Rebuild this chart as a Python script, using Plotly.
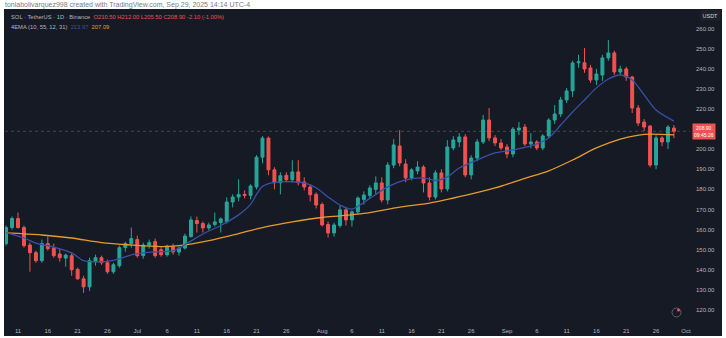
import plotly.graph_objects as go
import pandas as pd

# ---------------- data ----------------
start_date = "2025-06-09"
opens = [153, 161, 165.5, 161, 152.3, 148.5, 144.5, 153, 150.8, 147.8, 145.8, 147, 140.2, 135.5, 131.5, 144, 146, 143.5, 139, 142, 151, 153,
         155, 147, 152.3, 154, 150, 147.5, 151.5, 148.8, 150.8, 156.5, 164.5, 163, 160.8, 162.5, 163.5, 164, 173.7, 176.2, 177.5, 177, 181.2, 196, 205.5, 189.7, 183.3, 187, 184.8, 188.7, 183.7, 181.2, 177.5,
         172.5, 162.5, 158.3, 162, 169.8, 164.8, 168.8, 175, 177, 180, 183.2, 174.7, 192.1, 201.6, 192.6, 185.7, 189.2, 191.1, 183.2, 176.2, 188.2, 180.2, 200.6, 203.6, 206.1, 187.2, 195.6, 203.6, 214.5, 205.6, 203.1,
         201.1, 197.6, 209.5, 211, 202.6, 203.6, 200.6, 206.6, 214.5, 217.5, 224.5, 229, 243, 243, 240.4, 234.4, 236.9, 245.4, 247.9, 238.4, 239.9, 235.9, 220.5, 213.5, 211.5, 192.1, 205.6, 203.6, 210.5]
highs = [162, 166.5, 168.5, 162, 153.5, 149.5, 155, 156.5, 153, 150.5, 148, 148.5, 141, 137, 146, 147.5, 147, 145, 143.5, 152, 154, 161,
         157, 153.5, 155, 155.5, 151.5, 152.5, 153, 151.5, 158, 166.5, 166.5, 164, 163.5, 168.5, 166, 176, 177.5, 185, 179.5, 182.5, 197, 206.5, 206.3, 191, 188.5, 188.5, 194.5, 194.5, 186, 182.5, 178.5,
         173.5, 164, 163.5, 172, 171, 169.5, 176.5, 179, 182, 186.5, 186, 193.5, 205, 209.5, 195, 190.5, 194, 192, 186, 189.5, 190, 204.5, 206.5, 208, 207.5, 197, 205, 217, 220.5, 207, 205,
         202.5, 211, 213.5, 212.5, 208, 204.5, 207.5, 215.5, 222, 226, 230.5, 244, 247, 250.3, 242, 240, 247, 254.3, 249, 241.5, 241, 236.5, 222, 215, 212, 207, 206.5, 212, 212]
lows = [152, 160, 160.5, 151, 139, 143.5, 143.5, 149.5, 146, 144, 141.5, 137, 135, 128.5, 129.5, 142, 142.5, 138, 138, 141, 149, 151,
        146, 145.5, 150.5, 146, 146.5, 146.5, 147.5, 147, 150, 156, 158.5, 158.5, 159.5, 161.5, 158.5, 163, 171, 174, 175.5, 175, 180, 193, 187, 180, 177.5, 183.5, 183.5, 182, 179.5, 174, 170.5,
        161.5, 156, 156.5, 161, 162, 161.5, 167.5, 172.5, 175.5, 177.5, 173.5, 172.5, 190.5, 191.5, 183.5, 184.5, 187.5, 178.5, 174.5, 175, 178.5, 179, 199.5, 201, 186, 185, 194, 202.5, 204, 201.5, 199.5,
        195.5, 196, 207, 201.5, 200.5, 199.5, 199.5, 205.5, 212.5, 216, 223, 226, 240.5, 238, 233, 232, 234, 244, 237, 237, 234, 218, 211.5, 209, 191, 190, 201.5, 200, 205.5]
closes = [161, 165.5, 161, 152, 148.5, 144.5, 153, 150.5, 147, 146, 147.3, 140, 135.5, 131.5, 144.5, 146, 143.5, 139, 142.5, 151, 153, 155.5,
          147, 152.3, 153.5, 147, 147.5, 151.8, 148.8, 150.8, 156.8, 164.8, 163, 160.8, 162.3, 163.8, 165.3, 173.7, 176.2, 177.5, 177, 181.7, 196, 205.5, 189.7, 183.3, 186.8, 184.8, 188.7, 183.3, 181.2, 177.3, 172.2,
          162.3, 158.3, 162.3, 169.8, 164.8, 168.8, 175.7, 177.2, 180.7, 183.2, 174.7, 192.1, 202.1, 193.1, 185.7, 189.7, 191.1, 183.2, 176.2, 188.2, 180.2, 201.1, 204.6, 206.1, 187.2, 195.6, 203.6, 214.5, 205.6, 203.1, 200.6,
          197.6, 210, 210.5, 202.6, 203.6, 200.6, 206.6, 214.5, 217.5, 224.5, 229, 242.9, 243.5, 239.9, 234.4, 237.4, 245.4, 247.9, 238.4, 239.9, 235.9, 220.5, 213, 211, 192.1, 205.6, 203.6, 211, 208.9]

ema_fast_dates = ["2025-06-09", "2025-06-12", "2025-06-14", "2025-06-17", "2025-06-20", "2025-06-22", "2025-06-24", "2025-06-26",
                  "2025-06-28", "2025-06-30", "2025-07-02", "2025-07-04", "2025-07-07", "2025-07-09", "2025-07-12", "2025-07-15",
                  "2025-07-18", "2025-07-20", "2025-07-21", "2025-07-22", "2025-07-24", "2025-07-27", "2025-07-29", "2025-07-31",
                  "2025-08-02", "2025-08-04", "2025-08-06", "2025-08-09", "2025-08-12", "2025-08-15", "2025-08-18", "2025-08-20",
                  "2025-08-22", "2025-08-24", "2025-08-27", "2025-08-30", "2025-09-02", "2025-09-05", "2025-09-08", "2025-09-10",
                  "2025-09-12", "2025-09-14", "2025-09-16", "2025-09-18", "2025-09-20", "2025-09-22", "2025-09-24", "2025-09-26",
                  "2025-09-29"]
ema_fast_vals = [158.5, 155.8, 153.3, 151.3, 148.4, 144.5, 143.9, 144.2,
                 145.4, 147.4, 148.4, 148.9, 149.4, 152.5, 157.8, 162.0,
                 167.3, 172.5, 177.5, 181.5, 183.5, 183.8, 183.2, 180.8,
                 176.2, 172.2, 170.2, 175.5, 181.2, 184.7, 185.7, 184.4,
                 186.2, 190.6, 194.6, 198.1, 199.6, 201.6, 205.6, 212.0,
                 218.5, 224.5, 230.5, 234.9, 236.9, 234.4, 227.0, 219.5,
                 213.97]

ema_slow_dates = ["2025-06-09", "2025-06-15", "2025-06-20", "2025-06-25", "2025-06-30", "2025-07-05", "2025-07-08", "2025-07-13",
                  "2025-07-18", "2025-07-22", "2025-07-27", "2025-08-01", "2025-08-04", "2025-08-08", "2025-08-14", "2025-08-19",
                  "2025-08-25", "2025-08-30", "2025-09-04", "2025-09-08", "2025-09-12", "2025-09-16", "2025-09-20", "2025-09-24",
                  "2025-09-29"]
ema_slow_vals = [158.3, 157.3, 155.8, 153.5, 152.3, 151.5, 152.0, 154.5,
                 158.0, 161.0, 163.8, 166.0, 166.8, 168.0, 171.2, 173.2,
                 177.0, 180.7, 185.5, 189.2, 194.6, 200.6, 205.0, 207.4,
                 207.09]

x_tick_dates = ["2025-06-11", "2025-06-16", "2025-06-21", "2025-06-26", "2025-07-01", "2025-07-06", "2025-07-11", "2025-07-16",
                "2025-07-21", "2025-07-26", "2025-08-01", "2025-08-06", "2025-08-11", "2025-08-16", "2025-08-21", "2025-08-26",
                "2025-09-01", "2025-09-06", "2025-09-11", "2025-09-16", "2025-09-21", "2025-09-26", "2025-10-01"]
x_tick_text = ["11", "16", "21", "26", "Jul", "6", "11", "16", "21", "26", "Aug", "6", "11", "16", "21", "26",
               "Sep", "6", "11", "16", "21", "26", "Oct"]
# 210.00 is hidden behind the last-price tag in the reference
y_tick_vals = [120, 130, 140, 150, 160, 170, 180, 190, 200, 220, 230, 240, 250, 260]
y_tick_text = [f"{v:.2f}" for v in y_tick_vals]

countdown = "09:45:26"

# ---------------- styling ----------------
W, H = 726, 338
ML, MR, MT, MB = 5, 36, 9, 16
PW, PH = W - ML - MR, H - MT - MB
BG = "#161a25"
UP = "#26a69a"
DN = "#ef5350"
BLUE = "#3a4fa6"
ORANGE = "#e69a2b"
TXT = "#b2b5be"
FONT = "Liberation Sans"


def px(xp):
    return (xp - ML) / PW


def py(yp):
    return (H - MB - yp) / PH


dates = pd.date_range(start_date, periods=len(closes), freq="D")

fig = go.Figure()
fig.add_trace(go.Candlestick(
    x=dates, open=opens, high=highs, low=lows, close=closes,
    increasing=dict(line=dict(color=UP, width=1), fillcolor=UP),
    decreasing=dict(line=dict(color=DN, width=1), fillcolor=DN),
    whiskerwidth=0, showlegend=False, hoverinfo="skip"))
fig.add_trace(go.Scatter(x=pd.to_datetime(ema_slow_dates), y=ema_slow_vals, mode="lines",
                         line=dict(color=ORANGE, width=1.3, shape="spline", smoothing=0.8),
                         showlegend=False, hoverinfo="skip"))
fig.add_trace(go.Scatter(x=pd.to_datetime(ema_fast_dates), y=ema_fast_vals, mode="lines",
                         line=dict(color=BLUE, width=1.3, shape="spline", smoothing=0.8),
                         showlegend=False, hoverinfo="skip"))

last_close = closes[-1]
prev_close = closes[-2]
chg = last_close - prev_close

shapes = [
    # white strips around the dark panel
    dict(type="rect", xref="paper", yref="paper", x0=px(0), x1=px(W), y0=py(9), y1=py(0),
         fillcolor="white", line=dict(width=0), layer="above"),
    dict(type="rect", xref="paper", yref="paper", x0=px(0), x1=px(4), y0=py(H), y1=py(0),
         fillcolor="white", line=dict(width=0), layer="above"),
    dict(type="rect", xref="paper", yref="paper", x0=px(722), x1=px(W), y0=py(H), y1=py(0),
         fillcolor="white", line=dict(width=0), layer="above"),
    dict(type="rect", xref="paper", yref="paper", x0=px(0), x1=px(W), y0=py(H), y1=py(336),
         fillcolor="white", line=dict(width=0), layer="above"),
    # price line
    dict(type="line", xref="paper", yref="y", x0=0, x1=1, y0=last_close, y1=last_close,
         line=dict(color="rgba(180,180,190,0.3)", width=1, dash="dot"), layer="below"),
    # small logo circle
    dict(type="circle", xref="paper", yref="paper", x0=px(672), x1=px(681), y0=py(317), y1=py(308),
         line=dict(color="#5d606b", width=1)),
    dict(type="circle", xref="paper", yref="paper", x0=px(677), x1=px(680), y0=py(311.5), y1=py(308.5),
         fillcolor=DN, line=dict(width=0)),
]

ann = [
    dict(x=px(3), y=py(4.5), text="toniabolivarquez998 created with TradingView.com, Sep 29, 2025 14:14 UTC-4",
         font=dict(size=7, color="#787b86", family=FONT)),
    dict(x=px(9), y=py(17.5),
         text=(f"SOL · TetherUS · 1D · Binance  <span style='color:{DN}'>O{opens[-1]:.2f} H{highs[-1]:.2f} "
               f"L{lows[-1]:.2f} C{last_close:.2f} {chg:+.2f} ({chg / prev_close * 100:+.2f}%)</span>"),
         font=dict(size=5.8, color=TXT, family=FONT)),
    dict(x=px(9), y=py(26.5),
         text=(f"4EMA (10, 55, 12, 31)  <span style='color:{BLUE}'>{ema_fast_vals[-1]:.2f}</span>  "
               f"<span style='color:{ORANGE}'>{ema_slow_vals[-1]:.2f}</span>"),
         font=dict(size=5.8, color=TXT, family=FONT)),
]
for a in ann:
    a.update(xref="paper", yref="paper", xanchor="left", yanchor="middle", showarrow=False)

ann.append(dict(xref="paper", yref="paper", x=px(711), y=py(15), text="USDT", showarrow=False,
                xanchor="center", yanchor="middle", bgcolor="#1e222d",
                font=dict(size=5.5, color="#d1d4dc", family=FONT), borderpad=1.5))
ann.append(dict(xref="paper", yref="y", x=px(692), y=last_close, text=f"{last_close:.2f}<br>{countdown}",
                showarrow=False, xanchor="left", yanchor="middle", align="center", bgcolor=DN,
                font=dict(size=5, color="white", family=FONT), borderpad=1))

fig.update_layout(
    width=W, height=H, margin=dict(l=ML, r=MR, t=MT, b=MB),
    paper_bgcolor=BG, plot_bgcolor=BG,
    shapes=shapes, annotations=ann, showlegend=False,
    xaxis=dict(type="date", range=["2025-06-08 19:40", "2025-10-01 16:35"],
               rangeslider=dict(visible=False), showgrid=False, zeroline=False,
               tickmode="array", tickvals=x_tick_dates, ticktext=x_tick_text,
               tickfont=dict(size=6, color=TXT, family=FONT), ticks="", ticklabelstandoff=4,
               showline=False, fixedrange=True),
    yaxis=dict(side="right", range=[114.0, 269.75], showgrid=False, zeroline=False,
               tickmode="array", tickvals=y_tick_vals, ticktext=y_tick_text,
               tickfont=dict(size=6, color=TXT, family=FONT), ticks="", ticklabelstandoff=5,
               showline=False, fixedrange=True),
)

fig.write_html("out.html")
